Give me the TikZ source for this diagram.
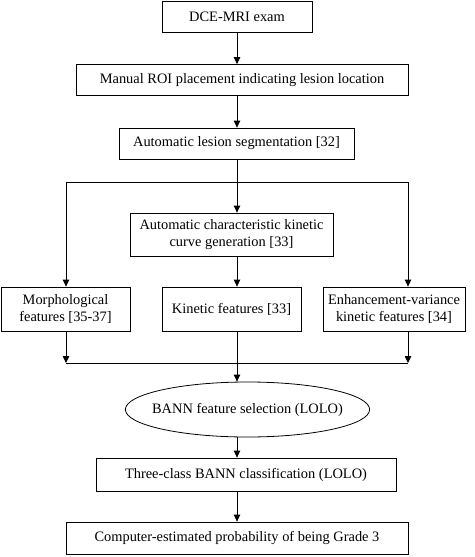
\documentclass[tikz,border=0pt]{standalone}
\usepackage{fontspec}
\setmainfont{Liberation Serif}
\usepackage{tikz}
\usetikzlibrary{arrows.meta,shapes.geometric,positioning}

\tikzset{
	stepbox/.style={draw, line width=0.8pt, align=center, inner sep=2pt, font=\fontsize{14.4}{17}\selectfont},
	stepoval/.style={ellipse, draw, line width=0.8pt, inner xsep=-9pt, inner ysep=0pt, font=\fontsize{14.4}{17}\selectfont},
	flow/.style={line width=0.8pt, -{Triangle[length=7pt,width=6.5pt]}},
	bus/.style={line width=0.8pt}
}

\begin{document}
\begin{tikzpicture}[x=1pt,y=-1pt]
	\useasboundingbox (0,0) rectangle (474,557);
	% Boxes
	\node[stepbox, minimum width=150pt, minimum height=31pt] at (237,16.5) (exam) {DCE-MRI exam};
	\node[stepbox, minimum width=332pt, minimum height=31pt] at (242,80) (roi) {Manual ROI placement indicating lesion location};
	\node[stepbox, minimum width=235pt, minimum height=31pt] at (236.5,143.5) (seg) {Automatic lesion segmentation [32]};
	\node[stepbox, minimum width=203pt, minimum height=43pt] at (231.5,234.5) (curve) {Automatic characteristic kinetic\\curve generation [33]};
	\node[stepbox, minimum width=129pt, minimum height=44pt] at (65.5,309) (morph) {Morphological\\features [35-37]};
	\node[stepbox, minimum width=139pt, minimum height=44pt] at (231.5,309) (kin) {Kinetic features [33]};
	\node[stepbox, minimum width=142pt, minimum height=44pt] at (394,309) (enh) {Enhancement-variance\\kinetic features [34]};
	\node[stepoval, minimum width=237pt, minimum height=55pt] at (247.5,409.5) (bann) {BANN feature selection (LOLO)};
	\node[stepbox, minimum width=300pt, minimum height=33pt] at (246,474.5) (cls) {Three-class BANN classification (LOLO)};
	\node[stepbox, minimum width=342pt, minimum height=32pt] at (237,538) (prob) {Computer-estimated probability of being Grade 3};
	% Bus points
	\coordinate (topmid) at (237,182);
	\coordinate (topleft) at (66,182);
	\coordinate (topright) at (408,182);
	\coordinate (botmid) at (237,363);
	\coordinate (botleft) at (66,363);
	\coordinate (botright) at (408,363);
	% Connectors
	\draw[flow] (exam.south) -- (exam.south |- roi.north);
	\draw[flow] (roi.south -| exam.south) -- (seg.north -| exam.south);
	\draw[bus] (seg.south -| topmid) -- (topmid);
	\draw[bus] (topleft) -- (topright);
	\draw[flow] (topmid) -- (topmid |- curve.north);
	\draw[flow] (topleft) -- (topleft |- morph.north);
	\draw[flow] (topright) -- (topright |- enh.north);
	\draw[flow] (curve.south -| topmid) -- (kin.north -| topmid);
	\draw[flow] (morph.south -| botleft) -- (botleft);
	\draw[flow] (enh.south -| botright) -- (botright);
	\draw[bus] (botleft) -- (botright);
	\draw[flow] (kin.south -| botmid) -- (bann.north -| botmid);
	\draw[flow] (bann.south -| botmid) -- (cls.north -| botmid);
	\draw[flow] (cls.south -| botmid) -- (prob.north -| botmid);
\end{tikzpicture}
\end{document}
